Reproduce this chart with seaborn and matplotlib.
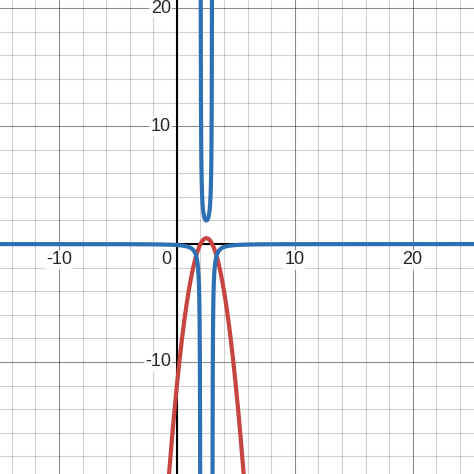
import numpy as np
import pandas as pd
import matplotlib.pyplot as plt
import seaborn as sns

# parabola y = a*x^2 + b*x + c, and its reciprocal
coef_a, coef_b, coef_c = -2.0, 10.0, -12.0
x_ticks = [-10, 10, 20]
y_ticks = [-10, 10, 20]

sns.set_theme(style="white")
plt.rcParams['font.family'] = ['Liberation Sans', 'DejaVu Sans']

f = plt.figure(figsize=(4.74, 4.74), dpi=100)
ax = f.add_axes([0, 0, 1, 1])
ax.set_xlim(-15, 25.2)
ax.set_ylim(-19.5, 20.7)

# grid
for v in np.arange(-14, 26, 2):
    ax.axvline(v, color="#000000", alpha=0.45 if v % 10 == 0 else 0.18, lw=0.8, zorder=0)
for v in np.arange(-18, 22, 2):
    ax.axhline(v, color="#000000", alpha=0.45 if v % 10 == 0 else 0.18, lw=0.8, zorder=0)
ax.axvline(0, color="black", lw=1.5, zorder=1)
ax.axhline(0, color="black", lw=1.5, zorder=1)

x = np.linspace(-15, 25.2, 20001)
red = coef_a * x**2 + coef_b * x + coef_c
blue = 1.0 / red
blue[np.abs(blue) > 60] = np.nan
df = pd.DataFrame({"x": x, "red": red, "blue": blue})

sns.lineplot(data=df, x="x", y="red", color="#c74440", lw=3, ax=ax, zorder=3)
ax.plot(df["x"], df["blue"], color="#2d70b3", lw=3, zorder=4)

box = dict(facecolor="white", edgecolor="none", pad=1, alpha=0.85)
for t in x_ticks:
    ax.text(t, -0.6, str(t), ha="center", va="top", fontsize=13, bbox=box, zorder=5)
for t in y_ticks:
    ax.text(-0.5, t, str(t), ha="right", va="center", fontsize=13, bbox=box, zorder=5)
ax.text(-0.5, -0.6, "0", ha="right", va="top", fontsize=13, bbox=box, zorder=5)

ax.set_xticks([])
ax.set_yticks([])
ax.set(xlabel="", ylabel="")
for s in ax.spines.values():
    s.set_visible(False)

f.savefig("out.png", dpi=100)
